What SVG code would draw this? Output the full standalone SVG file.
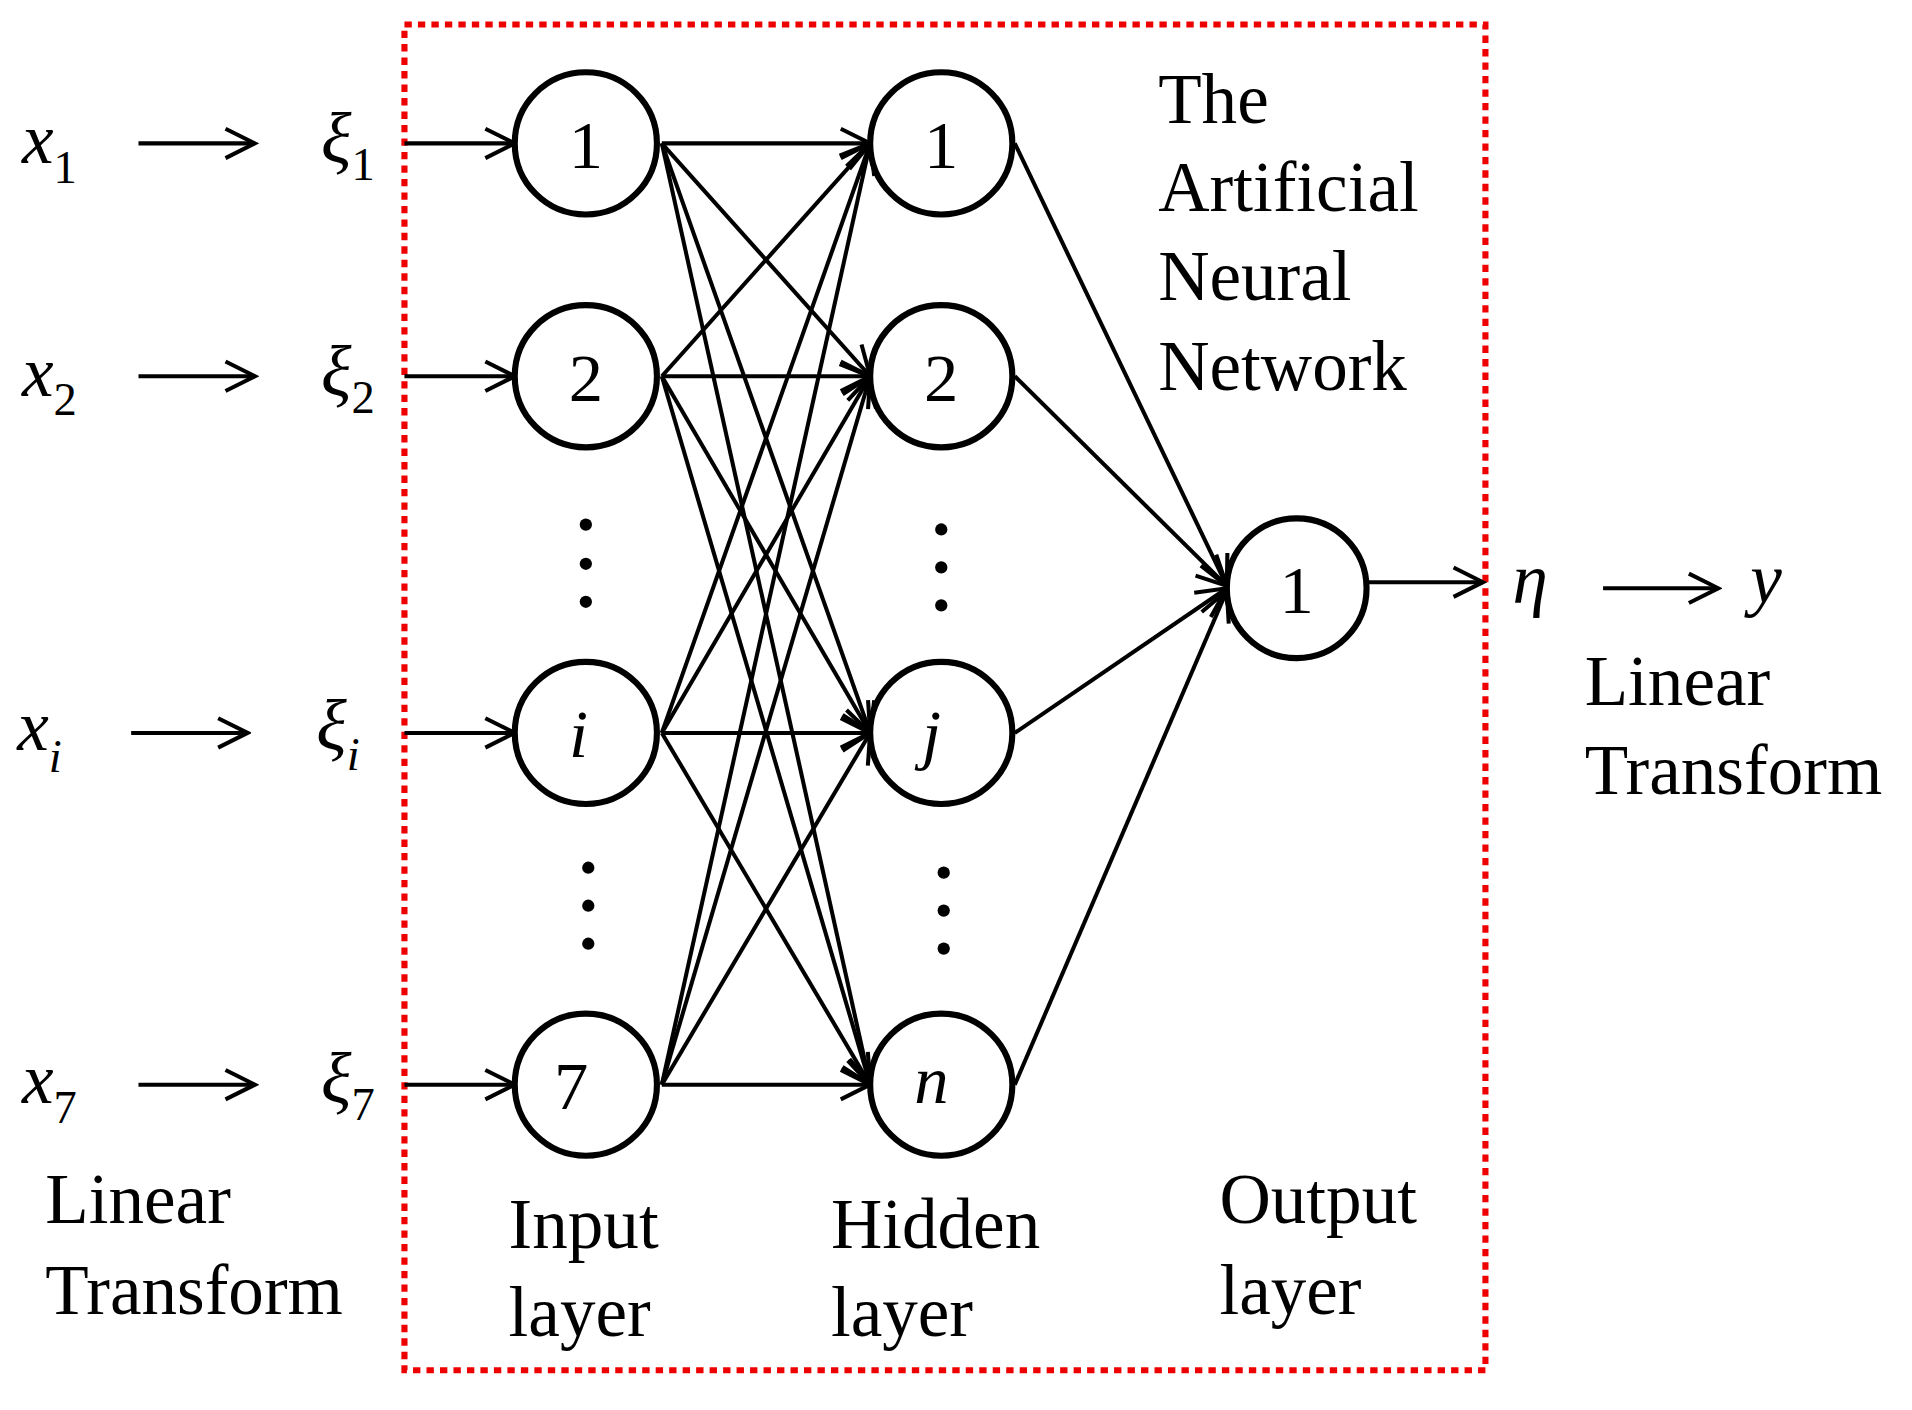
<svg xmlns="http://www.w3.org/2000/svg" width="1912" height="1410" viewBox="0 0 1912 1410">
<style>
text{font-family:"Liberation Serif",serif;fill:#000}
.t{font-size:58px}
.n{font-size:56px;text-anchor:middle}
.it{font-style:italic}
.sub{font-size:38px}
circle.node{fill:#fff;stroke:#000;stroke-width:5}
.dot{fill:#000}
</style>
<defs>
<marker id="ah2" viewBox="0 0 20 20" refX="18" refY="10" markerWidth="30" markerHeight="30" markerUnits="userSpaceOnUse" orient="auto">
<path d="M2,2 L18,10 L2,18" fill="none" stroke="#000" stroke-width="2.2"/>
</marker>
</defs>
<rect width="1912" height="1410" fill="#fff"/>
<g transform="scale(1.2256)">
<rect x="330" y="20" width="882" height="1098" fill="none" stroke="#e00" stroke-width="5" stroke-dasharray="6,5"/>
<g id="connectors" stroke="#000" stroke-width="3.3" style="marker-end:url(#ah2)">
<line x1="113" y1="117" x2="208" y2="117"/>
<line x1="113" y1="307" x2="208" y2="307"/>
<line x1="107" y1="598" x2="202" y2="598"/>
<line x1="113" y1="885" x2="208" y2="885"/>
<line x1="330" y1="117" x2="420" y2="117"/>
<line x1="330" y1="307" x2="420" y2="307"/>
<line x1="330" y1="598" x2="420" y2="598"/>
<line x1="330" y1="885" x2="420" y2="885"/>
<line x1="540" y1="117" x2="710" y2="117"/>
<line x1="540" y1="117" x2="710" y2="307"/>
<line x1="540" y1="117" x2="710" y2="598"/>
<line x1="540" y1="117" x2="710" y2="885"/>
<line x1="540" y1="307" x2="710" y2="117"/>
<line x1="540" y1="307" x2="710" y2="307"/>
<line x1="540" y1="307" x2="710" y2="598"/>
<line x1="540" y1="307" x2="710" y2="885"/>
<line x1="540" y1="598" x2="710" y2="117"/>
<line x1="540" y1="598" x2="710" y2="307"/>
<line x1="540" y1="598" x2="710" y2="598"/>
<line x1="540" y1="598" x2="710" y2="885"/>
<line x1="540" y1="885" x2="710" y2="117"/>
<line x1="540" y1="885" x2="710" y2="307"/>
<line x1="540" y1="885" x2="710" y2="598"/>
<line x1="540" y1="885" x2="710" y2="885"/>
<line x1="828" y1="117" x2="1001" y2="478"/>
<line x1="828" y1="307" x2="1001" y2="478"/>
<line x1="828" y1="598" x2="1001" y2="480"/>
<line x1="828" y1="885" x2="1001" y2="482"/>
<line x1="1117" y1="475" x2="1210" y2="475"/>
<line x1="1308" y1="480" x2="1402" y2="480"/>
</g>
<g id="in1"><circle class="node" cx="478" cy="117" r="58"/><text class="n" x="478" y="137">1</text></g>
<g id="in2"><circle class="node" cx="478" cy="307" r="58"/><text class="n" x="478" y="327">2</text></g>
<g id="ini"><circle class="node" cx="478" cy="598" r="58"/><text class="n it" x="472" y="618">i</text></g>
<g id="in7"><circle class="node" cx="478" cy="885" r="58"/><text class="n" x="466" y="905">7</text></g>
<g id="h1"><circle class="node" cx="768" cy="117" r="58"/><text class="n" x="768" y="137">1</text></g>
<g id="h2"><circle class="node" cx="768" cy="307" r="58"/><text class="n" x="768" y="327">2</text></g>
<g id="hj"><circle class="node" cx="768" cy="598" r="58"/><text class="n it" x="760" y="618">j</text></g>
<g id="hn"><circle class="node" cx="768" cy="885" r="58"/><text class="n it" x="760" y="900">n</text></g>
<g id="out1"><circle class="node" cx="1058" cy="480" r="57"/><text class="n" x="1058" y="500">1</text></g>
<g id="dots">
<circle class="dot" cx="478" cy="428" r="5"/><circle class="dot" cx="478" cy="460" r="5"/><circle class="dot" cx="478" cy="491" r="5"/>
<circle class="dot" cx="480" cy="708" r="5"/><circle class="dot" cx="480" cy="739" r="5"/><circle class="dot" cx="480" cy="770" r="5"/>
<circle class="dot" cx="768" cy="432" r="5"/><circle class="dot" cx="768" cy="463" r="5"/><circle class="dot" cx="768" cy="494" r="5"/>
<circle class="dot" cx="770" cy="712" r="5"/><circle class="dot" cx="770" cy="743" r="5"/><circle class="dot" cx="770" cy="774" r="5"/>
</g>
<g id="labels">
<text class="t it" x="18" y="133">x<tspan class="sub" font-style="normal" dy="16">1</tspan></text>
<text class="t it" x="18" y="323">x<tspan class="sub" font-style="normal" dy="16">2</tspan></text>
<text class="t it" x="14" y="612">x<tspan class="sub" dy="18">i</tspan></text>
<text class="t it" x="18" y="900">x<tspan class="sub" font-style="normal" dy="16">7</tspan></text>
<text class="t it" x="262" y="133">ξ<tspan class="sub" font-style="normal" dy="14">1</tspan></text>
<text class="t it" x="262" y="323">ξ<tspan class="sub" font-style="normal" dy="14">2</tspan></text>
<text class="t it" x="258" y="612">ξ<tspan class="sub" dy="16">i</tspan></text>
<text class="t it" x="262" y="900">ξ<tspan class="sub" font-style="normal" dy="14">7</tspan></text>
<text class="t it" x="1234" y="492">η</text>
<text class="t it" x="1428" y="492">y</text>
<text class="t" x="945" y="100">The</text>
<text class="t" x="945" y="172">Artificial</text>
<text class="t" x="945" y="245">Neural</text>
<text class="t" x="945" y="318">Network</text>
<text class="t" x="1293" y="575">Linear</text>
<text class="t" x="1293" y="648">Transform</text>
<text class="t" x="37" y="998">Linear</text>
<text class="t" x="37" y="1072">Transform</text>
<text class="t" x="415" y="1018">Input</text>
<text class="t" x="415" y="1090">layer</text>
<text class="t" x="678" y="1018">Hidden</text>
<text class="t" x="678" y="1090">layer</text>
<text class="t" x="995" y="998">Output</text>
<text class="t" x="995" y="1072">layer</text>
</g>
</g>
</svg>
